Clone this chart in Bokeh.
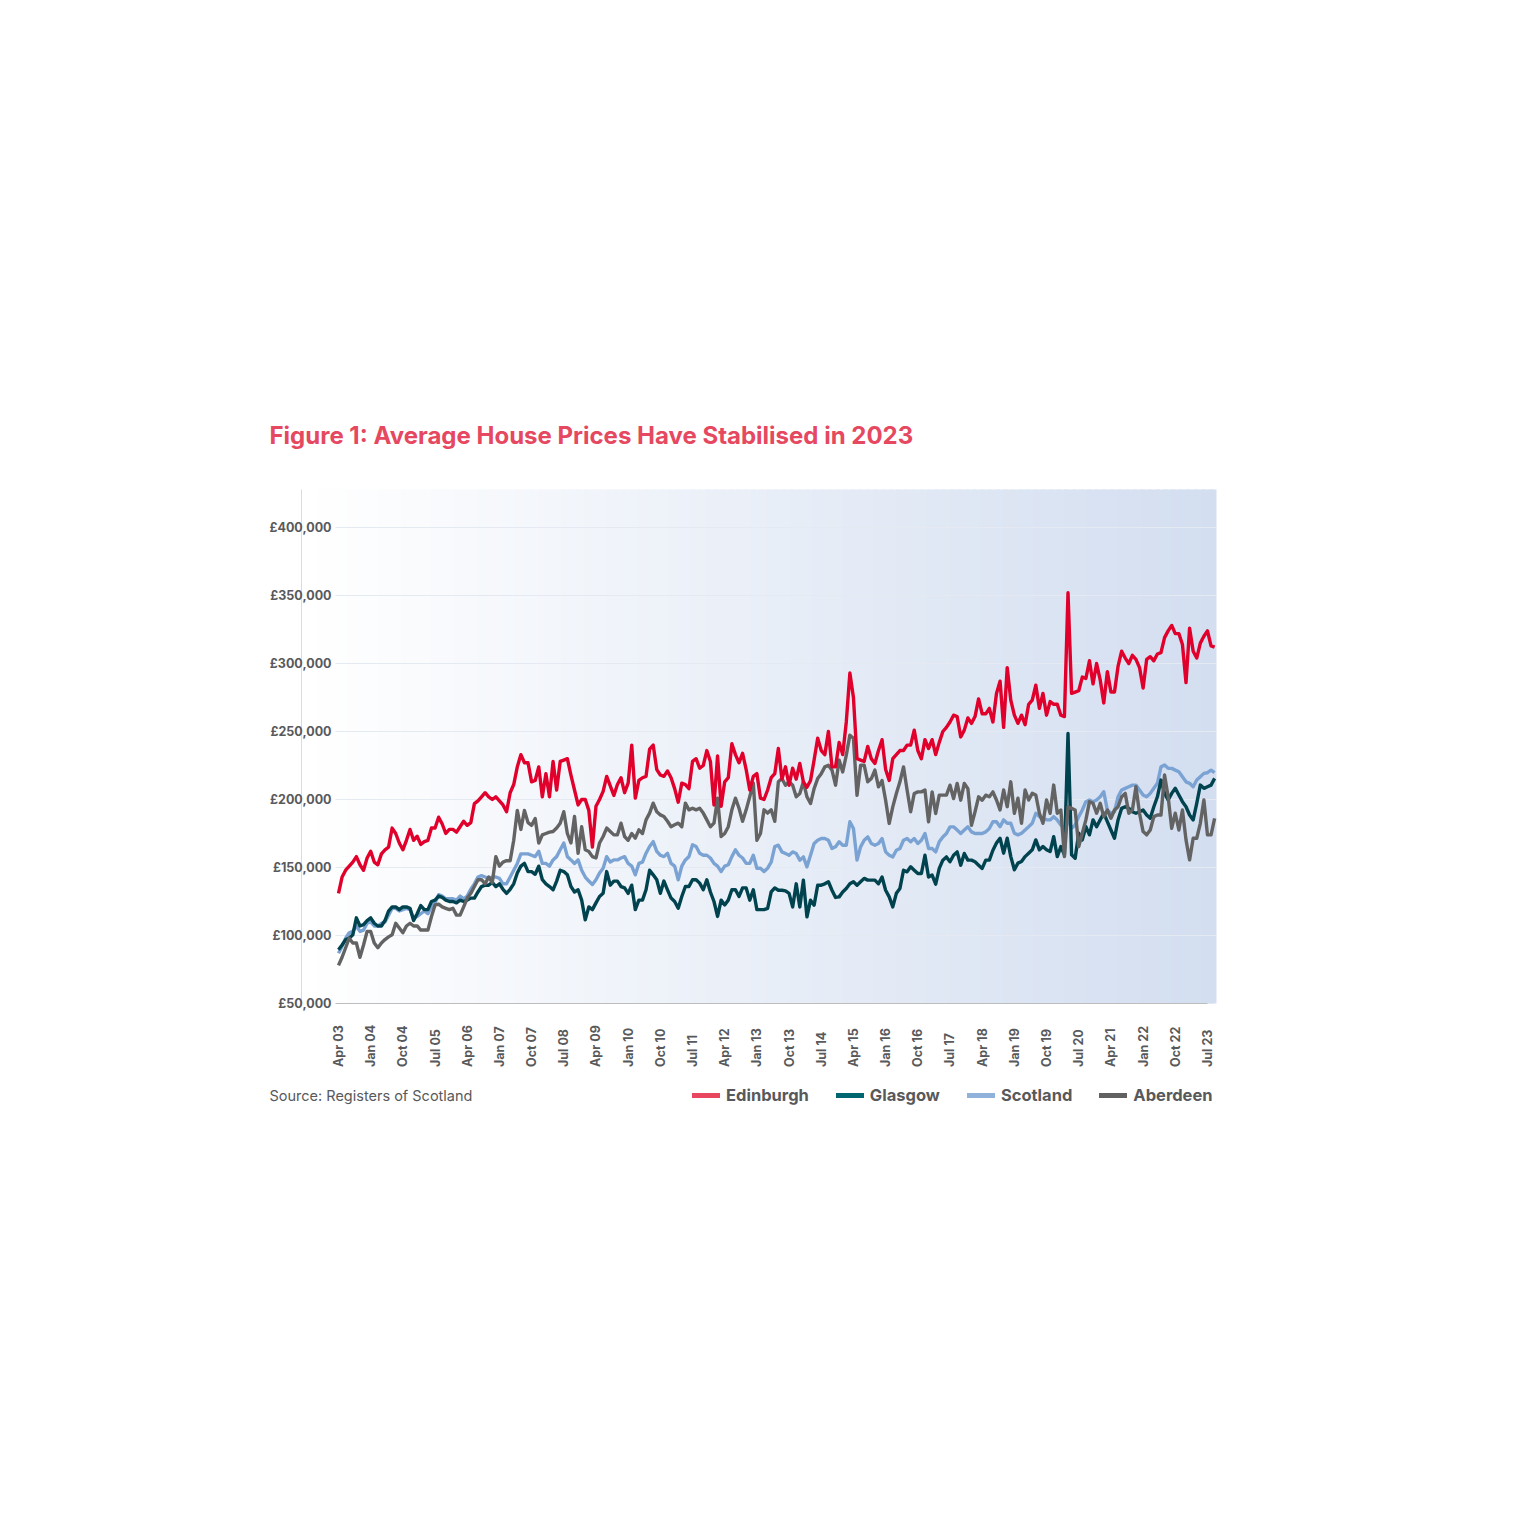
import numpy as np
from bokeh.plotting import figure
from bokeh.models import ColumnDataSource, Range1d, Legend, LegendItem
from bokeh.core.properties import value
from bokeh.embed import file_html
from bokeh.resources import INLINE

FONT = "Inter"
TEXT = "#58595b"

# x tick labels, one every 9 months from Apr 2003
tick_labels = [
    "Apr 03", "Jan 04", "Oct 04", "Jul 05", "Apr 06", "Jan 07", "Oct 07",
    "Jul 08", "Apr 09", "Jan 10", "Oct 10", "Jul 11", "Apr 12", "Jan 13",
    "Oct 13", "Jul 14", "Apr 15", "Jan 16", "Oct 16", "Jul 17", "Apr 18",
    "Jan 19", "Oct 19", "Jul 20", "Apr 21", "Jan 22", "Oct 22", "Jul 23",
]
y_ticks = [50000, 100000, 150000, 200000, 250000, 300000, 350000, 400000]
y_tick_labels = ["£50,000", "£100,000", "£150,000", "£200,000",
                 "£250,000", "£300,000", "£350,000", "£400,000"]

# monthly average prices, £ thousands, Apr 2003 - Sep 2023
edinburgh = [
    131, 143, 148, 151, 154, 158, 152, 148, 157, 162, 154, 152, 160, 163, 165, 179, 175, 168, 163, 170,
    178, 170, 173, 167, 169, 170, 179, 179, 187, 182, 175, 178, 178, 176, 180, 184, 181, 183, 197, 199,
    202, 205, 202, 200, 202, 199, 196, 191, 205, 211, 224, 233, 227, 227, 213, 214, 224, 202, 219, 202,
    228, 207, 228, 229, 230, 218, 207, 196, 200, 200, 192, 165, 195, 200, 206, 217, 210, 203, 211, 216,
    205, 212, 240, 201, 214, 216, 217, 237, 240, 222, 218, 217, 221, 216, 208, 198, 212, 211, 208, 228,
    230, 223, 225, 236, 228, 196, 232, 195, 213, 216, 241, 233, 227, 234, 222, 207, 217, 219, 201, 200,
    207, 216, 219,
    237.5, 215, 224, 210.5, 223, 215, 226.5, 213, 209, 214, 229, 245, 236, 233, 250, 224, 224, 242, 233, 257,
    293, 275, 230, 229, 228, 239, 230, 226.5, 236, 244, 222, 214, 230, 233, 236, 236, 240, 240, 251, 236,
    230, 244, 237.5, 244, 233, 242, 250, 253, 257, 262, 261, 246, 251, 260, 256, 261, 274, 263, 263, 267,
    257,
    278, 287, 253, 297, 273, 262, 256, 262, 255, 270, 273, 284, 267, 278, 262, 272, 270, 270, 262, 261,
    352, 278, 279, 280, 290, 289, 302, 285, 300, 288, 271, 294, 279, 279, 298, 309, 304, 300, 306, 303,
    297, 282, 303, 305, 302, 307, 308, 319, 324, 328, 322, 322, 314, 286, 326, 309, 304, 315, 320, 324,
    313, 312,
]
glasgow = [
    89.5, 93, 97, 98, 100.5, 113, 107, 108, 111, 113, 109, 107, 107, 111, 118, 121, 121, 119, 121, 121,
    120, 111, 116, 122, 119, 119, 125, 126, 129, 128, 126, 125, 125, 124, 126, 125, 126, 127.5, 127.5, 132,
    136, 137, 137, 139, 136, 138, 134, 131, 134, 138, 146, 151, 153, 147, 147, 145, 151, 141, 138, 136,
    133.6, 140, 148, 147, 144.6, 136, 132, 133.6, 126, 111.5, 121, 119, 124, 128.7, 131, 147, 137, 140, 140, 136,
    135, 131, 137, 119, 126, 126, 133.6, 148, 144.6, 141, 131, 140, 133.6, 127.5, 125, 120, 128.7, 136, 136, 141,
    141, 138.5, 133.6, 141, 132, 125, 114, 126, 122.5, 126, 133.6, 133.6, 128.7, 135, 135, 126, 133.6, 119, 119, 119,
    120, 132, 135,
    133.3, 133.3, 132.8, 131, 121, 138, 121, 140.7, 113.7, 126, 122.3, 137, 137, 138, 139.5, 133.3, 128, 128.4, 132, 134.6,
    138, 139.5, 137, 139.5, 142, 140.7, 140.7, 140.7, 138, 143, 133.3, 128.4, 121, 131, 134.6, 148, 146.8, 150.5, 148, 145.6,
    145.6, 159, 143, 144.4, 137.7, 149.3, 155.4, 157.8, 154.2, 159, 161.5, 151.7, 160.3, 155.4, 155.4, 154.2, 151.7, 149.3, 155.4, 155.4,
    162.7,
    168, 171.5, 160.5, 171.5, 158, 148.3, 153.2, 154.4, 158, 160.5, 163, 170.3, 163, 165.4, 163, 161.7, 172.7, 158, 165.4, 159.3,
    248.5, 159.3, 156.8, 175.2, 170.3, 180, 174, 185, 180, 185, 189.9, 183.7, 177.6, 171.5, 185, 193.5, 194.7, 193.5, 191, 189.9,
    191, 192.3, 188.6, 186.2, 194.7, 202, 214.3, 204.5, 199.6, 204.5, 208.2, 203.3, 198.4, 194.7, 188.6, 185, 197.2, 210.6, 208.2, 209.4,
    210.6, 215.5,
]
scotland = [
    87, 92, 98, 102, 103, 107, 103, 104, 109, 110, 107, 107, 109, 110, 115, 120, 120, 118, 119, 120,
    119, 113, 114, 116, 118, 116, 121, 124, 130, 129, 127, 127, 127, 126, 129, 127, 129, 134, 138, 143,
    144, 143, 142, 143, 143, 142, 138, 138, 143, 148, 153, 160, 160, 160, 159, 158, 162, 153, 153, 151,
    155.6, 158, 163, 168, 158, 155.6, 153, 155.6, 148, 143, 140, 137.5, 141, 146, 149.5, 158, 154, 155.6, 155.6, 157,
    158, 153, 151, 144.6, 153, 154, 160.5, 165.4, 169, 161.8, 159, 158, 160.5, 153, 151, 141, 151, 155.6, 158, 166.7,
    165.4, 160.5, 159, 159, 157, 153, 151, 147, 151, 152, 158, 163, 159, 157, 153, 153, 159, 149.5, 149.5, 147,
    149.5, 154, 165.4,
    166.4, 161.5, 160.3, 159, 161.5, 160.3, 155.4, 157.8, 150.5, 159, 167.6, 170, 171.3, 171.3, 170, 164, 165.2, 168.9, 166.4, 166.4,
    183.6, 178.7, 155.4, 165.2, 170, 172.5, 167.6, 166.4, 167.6, 171.3, 161.5, 159, 157.8, 162.7, 164, 170, 171.3, 168.9, 171.3, 167.6,
    170, 175, 164, 164, 161.5, 168.9, 172.5, 175, 179.9, 179.9, 177.5, 175, 177.5, 179.9, 176.2, 175, 175, 175, 176.2, 178.7,
    183.6,
    183.7, 180, 185, 182.5, 182.5, 175.2, 174, 175.2, 177.6, 180, 182.5, 189.9, 187.4, 186.2, 185, 185, 187.4, 185, 181.3, 178.9,
    185, 178.9, 181.3, 187.4, 192.3, 198.4, 199.6, 198.4, 199.6, 202, 205.7, 192.3, 189.9, 191, 202, 207, 208.2, 209.4, 210.6, 210.6,
    207, 203.3, 202, 204.5, 208.2, 211.9, 224, 225.3, 222.9, 222.9, 221.6, 220.4, 216.7, 213, 211.9, 209.4, 214.3, 216.7, 219.2, 219.7,
    221.6, 219.7,
]
aberdeen = [
    78, 84, 91, 98, 94.5, 94.5, 84, 93, 103, 103, 94.5, 91, 94.5, 97, 99, 100.5, 109, 105.5, 102, 107,
    109, 107, 107, 104, 104, 104, 114, 122.5, 123, 121, 120, 119, 120, 115, 115, 121, 127.5, 131, 136, 141,
    141, 138, 143, 139, 158, 151, 154, 155, 155, 170, 192, 178, 192, 183, 181, 186, 168, 174, 175, 176,
    176.5, 179, 182.6, 191, 175, 168, 187.5, 160.5, 180, 163, 161.8, 158, 157, 168, 172.8, 179, 176.5, 174, 174, 182.6,
    172.8, 170, 175, 171.6, 177.7, 175, 185, 190, 197.3, 191, 188.7, 187.5, 184, 180, 181.4, 182.6, 180, 197.3, 192.4, 193.6,
    192.4, 193.6, 190, 185, 180, 182.6, 201, 172.8, 175, 180, 192.4, 201, 193.6, 184, 192.4, 202, 212, 170, 175, 192.4,
    190, 192.4, 184,
    213, 215.4, 210.5, 213, 210.5, 202, 204.4, 213, 202, 197, 208, 215.4, 219, 224, 225.2, 221.6, 210.5, 229, 220.3, 232.6,
    247.3, 245, 203, 225.2, 225.2, 213, 215.4, 221.6, 209.3, 214, 199.5, 182.4, 194.6, 204.4, 213, 224, 206.9, 191, 204.4, 205.6,
    205.6, 206.9, 183.6, 205.6, 189.7, 203.2, 203.2, 203.2, 210.5, 200.7, 211.8, 199.5, 211.8, 208, 181.1, 191, 202, 199.5, 203.2, 202,
    205.6,
    199.6, 192.3, 207, 194.7, 213, 189.9, 200.9, 182.5, 207, 199.6, 204.5, 203.3, 189.9, 182.5, 199.6, 189.9, 210.6, 189.9, 192.3, 158,
    194.7, 193.5, 192.3, 165.4, 175.2, 185, 198.4, 197.2, 189.9, 197.2, 187.4, 192.3, 186.2, 192.3, 194.7, 202, 204.5, 189.9, 192.3, 209.4,
    189.9, 176.4, 174, 177.6, 187.4, 188.6, 188.6, 218, 202, 178.9, 189.9, 177.6, 192.3, 170.3, 155.6, 171.5, 171.5, 182.5, 199.6, 174,
    174, 186.2,
]

series = [
    # name, values, line colour, legend swatch colour
    ("Scotland", scotland, "#7aa3d3", "#8fb1da"),
    ("Glasgow", glasgow, "#00434e", "#00666f"),
    ("Aberdeen", aberdeen, "#636363", "#616161"),
    ("Edinburgh", edinburgh, "#e0002b", "#e8475f"),
]
legend_order = ["Edinburgh", "Glasgow", "Scotland", "Aberdeen"]

# the frame fills the whole canvas; layout is set in canvas pixels
W, H = 1520, 1520
X_PX0, X_PX_PER_MONTH = 338.0, 3.576       # pixel of first month, pixels per month
Y_PX50K, Y_PX_PER_GBP = 1003.0, 1.36e-3    # pixel of £50,000, pixels per £


def px_x(px):
    return (px - X_PX0) / X_PX_PER_MONTH


def px_y(py):
    return 50000 + (Y_PX50K - py) / Y_PX_PER_GBP


n_months = len(edinburgh)
months = np.arange(n_months)
tick_months = [9 * i for i in range(len(tick_labels))]

p = figure(
    frame_width=W, frame_height=H,
    min_border_left=0, min_border_right=0, min_border_top=0, min_border_bottom=0,
    x_range=Range1d(px_x(0), px_x(W)), y_range=Range1d(px_y(H), px_y(0)),
    output_backend="svg", toolbar_location=None, tools="",
)
p.outline_line_color = None
p.background_fill_color = "white"
p.border_fill_color = "white"
p.xaxis.visible = False
p.yaxis.visible = False
p.xgrid.visible = False
p.ygrid.visible = False

# plot area: left-to-right wash
area_l, area_r, area_t, area_b = px_x(301), px_x(1216), px_y(489), px_y(1003)
n_strips = 120
edges = np.linspace(area_l, area_r, n_strips + 1)
step = edges[1] - edges[0]
c0 = np.array([255, 255, 255])
c1 = np.array([211, 222, 240])
strip_cols = ["#%02x%02x%02x" % tuple(np.round(c0 + (c1 - c0) * t).astype(int))
              for t in np.linspace(0, 1, n_strips)]
p.quad(left=edges[:-1], right=np.minimum(edges[:-1] + step * 1.6, area_r),
       bottom=area_b, top=area_t, fill_color=strip_cols, line_color=None)

# grid lines, axis lines
n_grid = len(y_ticks) - 1
grid_src = ColumnDataSource(dict(
    y=y_ticks[1:], x0=[px_x(335)] * n_grid, x1=[area_r] * n_grid))
p.segment(x0="x0", y0="y", x1="x1", y1="y", source=grid_src,
          line_color="#e5e9f2", line_width=1)
p.segment(x0=[px_x(335)], y0=[y_ticks[0]], x1=[px_x(1207)], y1=[y_ticks[0]],
          line_color="#bdbdbd", line_width=1)
p.segment(x0=[area_l], y0=[area_b], x1=[area_l], y1=[area_t],
          line_color="#dcdcdc", line_width=1)

src = ColumnDataSource(dict(m=months, **{name: [v * 1000 for v in vals]
                                           for name, vals, _, _ in series}))
for name, vals, col, _ in series:
    p.line("m", name, source=src, line_color=col, line_width=3.4, line_join="round")

# tick labels
p.text(x=[px_x(331)] * len(y_ticks), y=y_ticks, text=y_tick_labels,
       text_align="right", text_baseline="middle", text_font=value(FONT),
       text_font_size="12.5px", text_font_style="bold", text_color=TEXT)
p.text(x=tick_months, y=[px_y(1066.5)] * len(tick_labels), text=tick_labels,
       angle=np.pi / 2, text_align="left", text_baseline="middle",
       text_font=value(FONT), text_font_size="12.5px", text_font_style="bold",
       text_color=TEXT)

p.text(x=[px_x(269)], y=[px_y(434.5)],
       text=["Figure 1: Average House Prices Have Stabilised in 2023"],
       text_align="left", text_baseline="alphabetic", text_font=value(FONT),
       text_font_size="24px", text_font_style="bold", text_color="#e5485f")
p.text(x=[px_x(269)], y=[px_y(1095)], text=["Source: Registers of Scotland"],
       text_align="left", text_baseline="alphabetic", text_font=value(FONT),
       text_font_size="14.5px", text_color=TEXT)

swatches = {name: sw for name, _, _, sw in series}
items = []
for name in legend_order:
    # one NaN point so the legend swatch has a colour to draw with
    r = p.line(x=[0], y=[np.nan], line_color=swatches[name], line_width=5,
               line_cap="round")
    items.append(LegendItem(label=name, renderers=[r]))
legend = Legend(items=items, orientation="horizontal", location=(692, H - 1105),
                padding=0, margin=0, spacing=27, label_standoff=6,
                glyph_width=28, glyph_height=20,
                label_text_font=FONT, label_text_font_size="16.5px",
                label_text_font_style="bold", label_text_color=TEXT,
                border_line_color=None, background_fill_alpha=0)
p.add_layout(legend)

open("out.html", "w").write(file_html(p, INLINE))
